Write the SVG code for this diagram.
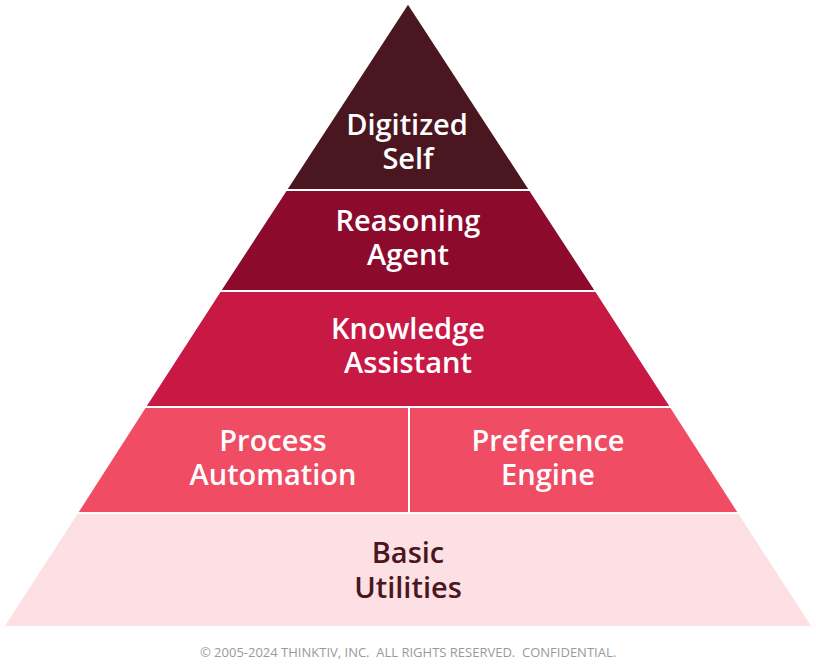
<svg xmlns="http://www.w3.org/2000/svg" width="816" height="672" viewBox="0 0 816 672">
<style>
.t{font-family:"Open Sans","Noto Sans",sans-serif;font-weight:600;font-size:29px;fill:#fff;text-anchor:middle}
.d{fill:#4a1620}
.s{stroke:#fff;stroke-width:2}
</style>
<rect width="816" height="672" fill="#fff"/>
<g id="digitized-self"><polygon class="s" points="408,3 530,190 286,190" fill="#4a1620"/>
<text class="t" x="407" y="135">Digitized</text><text class="t" x="408" y="169">Self</text></g>
<g id="reasoning-agent"><polygon class="s" points="286,190 530,190 596,291 220,291" fill="#8c0a2c"/>
<text class="t" x="408" y="231">Reasoning</text><text class="t" x="408" y="265">Agent</text></g>
<g id="knowledge-assistant"><polygon class="s" points="220,291 596,291 671,407 145,407" fill="#c81945"/>
<text class="t" x="408" y="339">Knowledge</text><text class="t" x="408" y="373">Assistant</text></g>
<g id="process-automation"><polygon class="s" points="145,407 409,407 409,513 77,513" fill="#f04c63"/>
<text class="t" x="273" y="451">Process</text><text class="t" x="273" y="485">Automation</text></g>
<g id="preference-engine"><polygon class="s" points="409,407 671,407 739,513 409,513" fill="#f04c63"/>
<text class="t" x="548" y="451">Preference</text><text class="t" x="548" y="485">Engine</text></g>
<g id="basic-utilities"><polygon class="s" points="77,513 739,513 813,627 3,627" fill="#fde0e3"/>
<text class="t d" x="408" y="563">Basic</text><text class="t d" x="408" y="598">Utilities</text></g>
<text x="408" y="657" font-family="Open Sans,sans-serif" font-size="13" fill="#999" text-anchor="middle" xml:space="preserve">© 2005-2024 THINKTIV, INC.  ALL RIGHTS RESERVED.  CONFIDENTIAL.</text>
</svg>
